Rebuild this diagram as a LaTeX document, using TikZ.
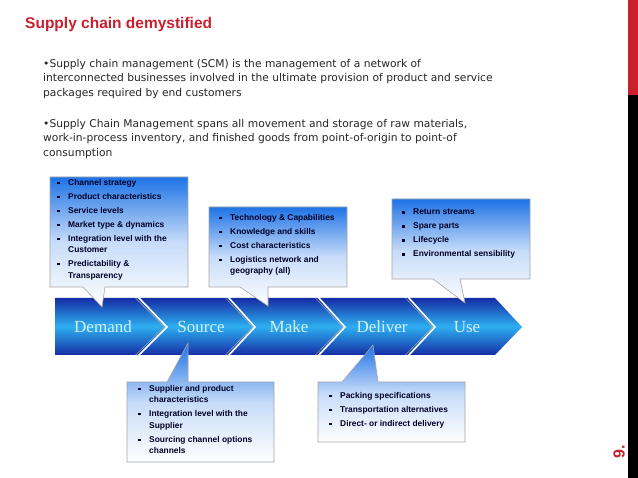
\documentclass[tikz,border=0pt]{standalone}
\usepackage{fontspec}
\setmainfont{Liberation Sans}
\newfontfamily\bodyf{DejaVu Sans}
\newfontfamily\serf{Liberation Serif}
\usetikzlibrary{calc}
\definecolor{ttl}{RGB}{200,32,45}
\definecolor{bxblue}{RGB}{30,115,230}
\definecolor{navy}{RGB}{22,45,165}
\definecolor{cyanb}{RGB}{45,175,240}
\definecolor{lbl}{RGB}{215,240,255}
\newcommand{\bx}{\makebox[11pt][l]{\raisebox{1.3pt}{\rule{2.4pt}{2.4pt}}}}
\newcommand{\ct}{\hspace*{11pt}}
\begin{document}
\begin{tikzpicture}[x=1pt,y=-1pt,
  callout/.style={draw=gray!70,line width=0.6pt,top color=bxblue,bottom color=white,middle color=bxblue!25},
  btxt/.style={anchor=north west,align=left,inner sep=0pt,font=\fontsize{8.4}{11.5}\selectfont\bfseries,text=black!85!blue},
  stage/.style={font=\serf\fontsize{17}{17}\selectfont,text=lbl},
  body/.style={anchor=north west,align=left,inner sep=0pt,text=black!85,font=\bodyf\fontsize{10.7}{14.6}\selectfont}]
\useasboundingbox (0,0) rectangle (638,478);
\fill[white] (0,0) rectangle (638,478);
\fill[ttl] (628,0) rectangle (638,95);
\fill[black] (628,95) rectangle (638,478);
\node[text=ttl,rotate=90,font=\bfseries\fontsize{16}{16}\selectfont] (pg) at (619,452) {9.};
\node[anchor=west,text=ttl,font=\bfseries\fontsize{15.5}{16}\selectfont,inner sep=0pt] (title) at (25,24) {Supply chain demystified};
\node[body] (p1) at (43,59) {\textbullet Supply chain management (SCM) is the management of a network of\\interconnected businesses involved in the ultimate provision of product and service\\packages required by end customers};
\node[body] (p2) at (43,119) {\textbullet Supply Chain Management spans all movement and storage of raw materials,\\work-in-process inventory, and finished goods from point-of-origin to point-of\\consumption};
% arrow band
\shade[top color=navy,bottom color=navy,middle color=cyanb] (55,298) -- (495,298) -- (522,327) -- (495,355) -- (55,355) -- cycle;
\foreach \a/\b in {138/167,228/255,318/345,408/435}{
  \draw[white,line width=1.6pt] (\a,297) -- (\b,327) -- (\a,356);
  \draw[gray!60,line width=0.4pt] (\a-2.5,298) -- (\b-2.5,327) -- (\a-2.5,355);
}
\node[stage] (demand) at (103,327) {Demand};
\node[stage] (source) at (201,327) {Source};
\node[stage] (make) at (289,327) {Make};
\node[stage] (deliver) at (382,327) {Deliver};
\node[stage] (use) at (467,327) {Use};
% callouts
\path[callout] (50,177) -- (188,177) -- (188,287) -- (105,287) -- (102,307) -- (83,287) -- (50,287) -- cycle;
\path[callout] (209,207) -- (347,207) -- (347,287) -- (268,287) -- (268,306) -- (240,287) -- (209,287) -- cycle;
\path[callout] (392,199) -- (530,199) -- (530,279) -- (460,279) -- (465,303) -- (433,279) -- (392,279) -- cycle;
\path[callout] (127,382) -- (167,382) -- (188,343) -- (188,382) -- (274,382) -- (274,462) -- (127,462) -- cycle;
\path[callout] (318,382) -- (342,382) -- (373,345) -- (378,382) -- (465,382) -- (465,442) -- (318,442) -- cycle;
\node[btxt] (t1) at (57,179) {\bx Channel strategy\\[2.5pt]\bx Product characteristics\\[2.5pt]\bx Service levels\\[2.5pt]\bx Market type \& dynamics\\[2.5pt]\bx Integration level with the\\\ct Customer\\[2.5pt]\bx Predictability \&\\\ct Transparency};
\node[btxt] (t2) at (219,214) {\bx Technology \& Capabilities\\[2.5pt]\bx Knowledge and skills\\[2.5pt]\bx Cost characteristics\\[2.5pt]\bx Logistics network and\\\ct geography (all)};
\node[btxt] (t3) at (402,209) {\bx Return streams\\[2.5pt]\bx Spare parts\\[2.5pt]\bx Lifecycle\\[2.5pt]\bx Environmental sensibility};
\node[btxt] (t4) at (138,385) {\bx Supplier and product\\\ct characteristics\\[2.5pt]\bx Integration level with the\\\ct Supplier\\[2.5pt]\bx Sourcing channel options\\\ct channels};
\node[btxt] (t5) at (329,392) {\bx Packing specifications\\[2.5pt]\bx Transportation alternatives\\[2.5pt]\bx Direct- or indirect delivery};
\end{tikzpicture}
\end{document}
